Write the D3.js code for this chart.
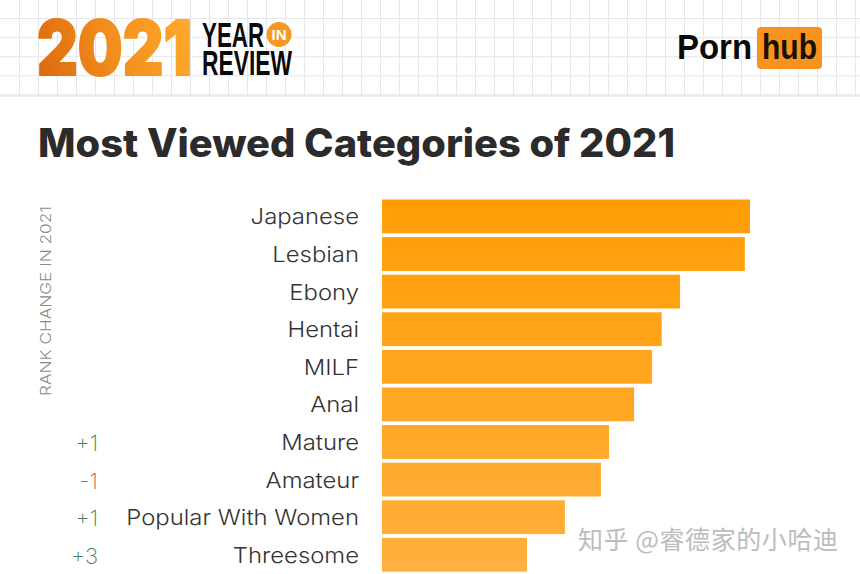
<!DOCTYPE html>
<html><head><meta charset="utf-8">
<script src="https://cdn.jsdelivr.net/npm/d3@7"></script>
<style>html,body{margin:0;padding:0;background:#fff;overflow:hidden}svg{display:block}text{font-family:Inter,Lato,sans-serif}</style>
</head><body><svg id="c" width="860" height="574"></svg>
<script>
const categories=["Japanese","Lesbian","Ebony","Hentai","MILF","Anal","Mature","Amateur","Popular With Women","Threesome"];
const values=[100,98.6,81,76,73.4,68.5,61.7,59.5,49.7,39.4];
const rankChanges=["","","","","","","+1","-1","+1","+3"];
const title="Most Viewed Categories of 2021";
const axisTitle="RANK CHANGE IN 2021";
const watermark="知乎 @睿德家的小哈迪";

const svg=d3.select("#c");
const defs=svg.append("defs");
const g1=defs.append("linearGradient").attr("id","yr").attr("gradientUnits","userSpaceOnUse")
 .attr("x1",40).attr("y1",75).attr("x2",190).attr("y2",25);
g1.append("stop").attr("offset",0).attr("stop-color","#DD6A0E");
g1.append("stop").attr("offset",.5).attr("stop-color","#F28F1E");
g1.append("stop").attr("offset",1).attr("stop-color","#FFA92B");
const g2=defs.append("linearGradient").attr("id","bars").attr("gradientUnits","userSpaceOnUse")
 .attr("x1",0).attr("y1",200).attr("x2",0).attr("y2",574);
g2.append("stop").attr("offset",0).attr("stop-color","#FF9D05");
g2.append("stop").attr("offset",1).attr("stop-color","#FFB03F");

// header grid
const gridX=d3.range(19,860,19), gridY=d3.range(18.5,95,19.1);
const grid=svg.append("g").attr("stroke","#E6E7EB").attr("stroke-width",1);
grid.selectAll(".v").data(gridX).join("line").attr("x1",d=>d+.5).attr("x2",d=>d+.5).attr("y1",0).attr("y2",96);
grid.selectAll(".h").data(gridY).join("line").attr("x1",0).attr("x2",860).attr("y1",d=>d).attr("y2",d=>d);
svg.append("rect").attr("x",0).attr("y",95.5).attr("width",860).attr("height",1).attr("fill","#DEDEDE");

// logo left
svg.append("text").text("2021").attr("x",37).attr("y",74.5).attr("font-size",76).attr("font-weight",900)
 .attr("textLength",155).attr("lengthAdjust","spacingAndGlyphs").attr("fill","url(#yr)")
 .attr("stroke","url(#yr)").attr("stroke-width",2).attr("stroke-linejoin","round");
const cond=(t,x,y,len,size)=>svg.append("text").text(t).attr("x",x).attr("y",y).attr("font-size",size)
 .attr("textLength",len).attr("lengthAdjust","spacingAndGlyphs").attr("font-weight",700).attr("fill","#0a0a0a")
 .style("font-family","'Liberation Sans Narrow','Liberation Sans',sans-serif");
cond("YEAR",202,46.5,62,35);
cond("REVIEW",202,75,90,35);
svg.append("circle").attr("cx",279).attr("cy",34.5).attr("r",12.5).attr("fill","#F59A1F");
svg.append("text").text("IN").attr("x",279).attr("y",40).attr("text-anchor","middle").attr("font-size",15).attr("font-weight",700)
 .attr("fill","#fff").style("font-family","'Liberation Sans Narrow',sans-serif");

// logo right
svg.append("text").text("Porn").attr("x",677).attr("y",59).attr("font-size",35).attr("font-weight",700)
 .attr("textLength",75).attr("lengthAdjust","spacingAndGlyphs").attr("fill","#0a0a0a").style("font-family","'Liberation Sans',sans-serif");
svg.append("rect").attr("x",757).attr("y",27).attr("width",65).attr("height",42).attr("rx",4).attr("fill","#F7931E");
svg.append("text").text("hub").attr("x",762).attr("y",59).attr("font-size",35).attr("font-weight",700)
 .attr("textLength",55).attr("lengthAdjust","spacingAndGlyphs").attr("fill","#1a0f00").style("font-family","'Liberation Sans',sans-serif");

// title
svg.append("text").text(title).attr("x",38).attr("y",157).attr("font-size",39).attr("font-weight",800)
 .attr("textLength",637).attr("lengthAdjust","spacingAndGlyphs").attr("fill","#2b2b2b");

// bars
const x=d3.scaleLinear().domain([0,100]).range([382,750]);
const y=d3.scaleBand().domain(categories).range([199.5,571.7]).paddingInner(.1).paddingOuter(0);
svg.append("g").selectAll("rect").data(categories).join("rect")
 .attr("x",x(0)).attr("y",d=>y(d)).attr("height",y.bandwidth())
 .attr("width",(d,i)=>x(values[i])-x(0)).attr("fill","url(#bars)");
svg.append("g").attr("transform","translate(359,0)")
 .call(d3.axisLeft(y).tickSize(0).tickPadding(0))
 .call(a=>a.select(".domain").remove())
 .call(a=>a.selectAll("text").attr("font-size",22).attr("font-weight",300).attr("fill","#333")
   .style("font-family","Inter,sans-serif").attr("dy","0.36em")
   .each(function(){const n=this.getComputedTextLength();
     d3.select(this).attr("textLength",n*1.085).attr("lengthAdjust","spacingAndGlyphs");}));
svg.append("g").selectAll("text").data(categories).join("text")
 .text((d,i)=>rankChanges[i]).attr("x",98).attr("y",d=>y(d)+y.bandwidth()/2+9)
 .attr("text-anchor","end").attr("font-size",22).attr("font-weight",200)
 .attr("fill",(d,i)=>rankChanges[i][0]==="-"?"#D0564C":"#3F7F5F");

svg.append("text").text(axisTitle).attr("transform","translate(51,396) rotate(-90)")
 .attr("font-size",15).attr("font-weight",300).attr("textLength",190).attr("lengthAdjust","spacingAndGlyphs").attr("fill","#8a8a8a");

svg.append("text").text(watermark).attr("x",578).attr("y",549).attr("font-size",25)
 .attr("textLength",260).attr("fill","#bdbdbd").style("font-family","'Noto Sans CJK SC',sans-serif");
</script></body></html>
